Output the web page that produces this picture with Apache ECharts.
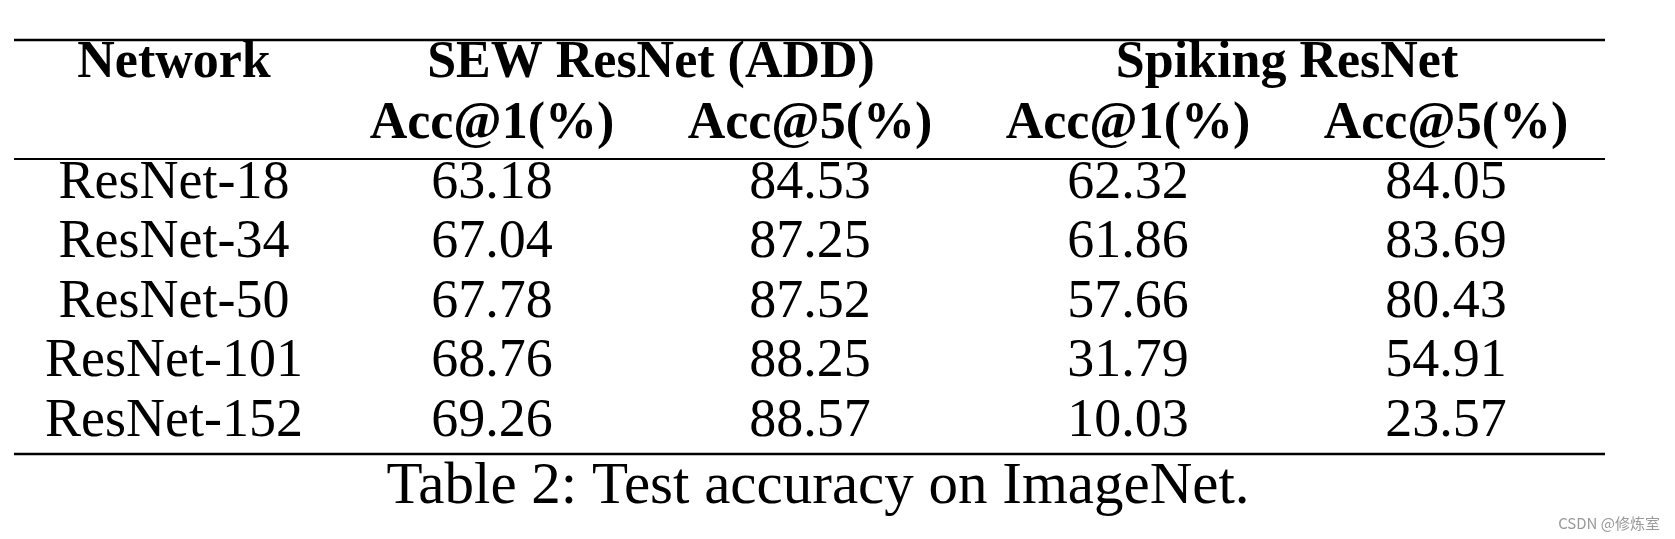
<!DOCTYPE html>
<html><head><meta charset="utf-8">
<script src="https://cdn.jsdelivr.net/npm/echarts@6/dist/echarts.min.js"></script>
<style>html,body{margin:0;background:#fff}#c{width:1675px;height:539px}</style>
</head><body><div id="c"></div>
<script>
const columns = ['Network', 'SEW Acc@1', 'SEW Acc@5', 'Spiking Acc@1', 'Spiking Acc@5'];
const networks = ['ResNet-18', 'ResNet-34', 'ResNet-50', 'ResNet-101', 'ResNet-152'];
const sewAcc1 = ['63.18', '67.04', '67.78', '68.76', '69.26'];
const sewAcc5 = ['84.53', '87.25', '87.52', '88.25', '88.57'];
const spkAcc1 = ['62.32', '61.86', '57.66', '31.79', '10.03'];
const spkAcc5 = ['84.05', '83.69', '80.43', '54.91', '23.57'];
const groupHeaders = ['SEW ResNet (ADD)', 'Spiking ResNet'];
const subHeaders = ['Acc@1(%)', 'Acc@5(%)', 'Acc@1(%)', 'Acc@5(%)'];
const caption = 'Table 2: Test accuracy on ImageNet.';

const cols = [networks, sewAcc1, sewAcc5, spkAcc1, spkAcc5];
const cells = [];
cols.forEach((c, ci) => c.forEach((v, ri) => cells.push([ci, ri, v])));

const serif = 'Liberation Serif';
const colX = i => 15 + (i + 0.5) * 318;
const gfx = [];
[40, 159, 454].forEach((y, i) => gfx.push({type: 'line', shape: {x1: 14, y1: y, x2: 1605, y2: y},
  style: {stroke: '#000', lineWidth: i === 1 ? 2 : 2.5}}));
const headText = (x, y, t) => ({type: 'text', x, y, style: {text: t, fill: '#000',
  font: 'bold 52px ' + serif, textAlign: 'center', textVerticalAlign: 'middle'}});
gfx.push(headText(colX(0), 64, 'Network'));
gfx.push(headText((colX(1) + colX(2)) / 2, 64, groupHeaders[0]));
gfx.push(headText((colX(3) + colX(4)) / 2, 64, groupHeaders[1]));
subHeaders.forEach((t, i) => gfx.push(headText(colX(i + 1), 125, t)));
gfx.push({type: 'text', x: 818, y: 487, style: {text: caption, fill: '#000',
  font: '59px ' + serif, textAlign: 'center', textVerticalAlign: 'middle'}});
gfx.push({type: 'text', x: 1660, y: 523, style: {text: 'CSDN @修炼室', fill: '#999',
  font: '15px "Noto Sans CJK SC"', textAlign: 'right', textVerticalAlign: 'middle'}});

const chart = echarts.init(document.getElementById('c'));
chart.setOption({
  animation: false,
  grid: {left: 15, top: 154, width: 1590, height: 297.5},
  xAxis: {type: 'category', data: columns, show: false},
  yAxis: {type: 'category', data: networks, inverse: true, show: false},
  series: [{
    type: 'scatter', symbolSize: 0, data: cells,
    itemStyle: {opacity: 1},
    label: {show: true, position: 'inside', formatter: p => p.data[2],
      color: '#000', fontFamily: serif, fontSize: 54}
  }],
  graphic: gfx
});
</script></body></html>
